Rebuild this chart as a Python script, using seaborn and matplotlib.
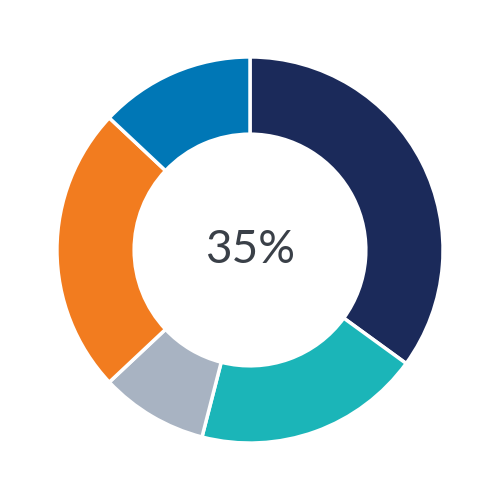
import matplotlib
matplotlib.use("Agg")
import matplotlib.pyplot as plt
import seaborn as sns

# slice shares, clockwise from the top
labels = ["Navy", "Teal", "Gray", "Orange", "Blue"]
shares = [35, 19, 9, 24, 13]
colors = ["#1b2a5a", "#1bb5b8", "#a8b3c2", "#f27c1f", "#0077b6"]
center_label = "35%"

sns.set_theme(style="white")
plt.rcParams["font.family"] = ["Lato", "DejaVu Sans"]

fig = plt.figure(figsize=(5, 5), dpi=100)
ax = fig.add_axes([0, 0, 1, 1])

ax.pie(shares, colors=colors, startangle=90, counterclock=False,
       radius=1.0,
       wedgeprops=dict(width=0.40, edgecolor="white", linewidth=2.5))

ax.text(0, 0, center_label, ha="center", va="center",
        fontsize=33, color="#3a4048")

lim = 1.295
ax.set_xlim(-lim, lim)
ax.set_ylim(-lim, lim)
ax.set_aspect("equal")
ax.axis("off")

fig.savefig("out.png", dpi=100, facecolor="white")
